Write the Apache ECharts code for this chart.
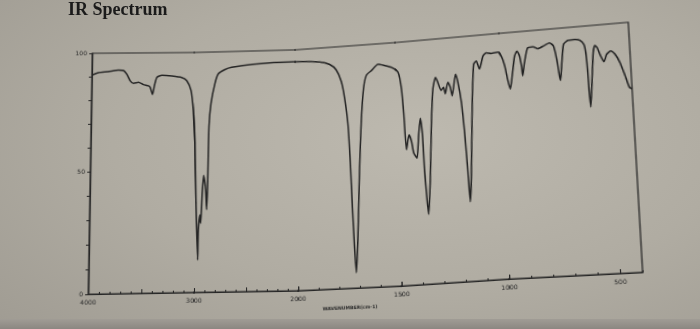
<!DOCTYPE html>
<html>
<head>
<meta charset="utf-8">
<script src="https://cdn.jsdelivr.net/npm/echarts@6/dist/echarts.min.js"></script>
<style>
html,body{margin:0;padding:0;width:700px;height:329px;overflow:hidden;}
body{position:relative;background:radial-gradient(ellipse 80% 85% at 60% 42%, #bdb9af 0%, #b0aca2 55%, #a09c93 100%);}
#band{position:absolute;left:0;top:319px;width:700px;height:10px;background:linear-gradient(#a09c95,#8b8781);}
.strip{position:absolute;left:0;top:0;width:700px;height:329px;transform-origin:0 0;}
.strip > div{width:700px;height:329px;}
#title{position:absolute;left:0;top:0;width:700px;height:40px;}
</style>
</head>
<body>
<div id="band"></div>
<div id="plots"></div>
<div id="title"></div>
<script>
// ---- data (wavenumber in cm-1, % transmittance) ----
const wavenumbers = [4000,3937,3840,3742,3693,3660,3627,3594,3546,3497,
  3448,3431,3408,3390,3367,3318,3221,3123,3074,3032,
  3010,2992,2982,2965,2959,2943,2936,2921,2907,2888,
  2878,2868,2855,2835,2796,2763,2697,2630,2422,2022,
  1877,1827,1795,1771,1756,1742,1734,1729,1722,1716,
  1705,1690,1676,1661,1646,1620,1587,1562,1521,1489,
  1475,1467,1459,1445,1434,1425,1410,1399,1389,1381,
  1376,1369,1363,1350,1336,1324,1310,1300,1285,1273,
  1266,1252,1241,1233,1214,1204,1191,1181,1172,1166,
  1157,1140,1126,1113,1099,1080,1064,1040,1008,993,
  979,967,957,946,931,919,908,900,897,886,
  868,844,821,790,766,748,736,727,723,713,
  701,680,649,626,608,601,597,595,591,581,
  567,558,548,534,520,506,487,468,448,428,
  412,400];
const transmittance = [90.7,91.7,92.1,92.7,92.5,90.9,88.1,87.0,87.4,86.4,
  85.9,85.2,82.2,85.9,89.4,90.3,90.0,89.3,87.9,83.7,
  75.3,61.4,36.4,13.1,25.3,31.5,28.1,40.6,47.8,41.9,
  33.6,44.7,68.3,78.0,86.4,90.5,92.3,93.2,94.3,94.9,
  94.1,92.7,90.2,85.2,78.1,67.0,50.3,33.7,15.8,6.1,
  19.9,47.4,67.9,81.6,87.0,88.9,91.4,90.8,89.6,87.3,
  80.3,69.3,54.9,60.9,58.2,53.3,51.1,60.6,67.4,60.5,
  45.5,34.5,27.9,42.5,65.7,79.2,83.9,81.8,78.2,79.5,
  76.7,81.4,79.3,75.6,84.5,81.1,72.8,60.5,44.1,31.8,
  41.3,71.1,88.0,89.3,85.8,91.1,92.3,91.9,92.2,90.4,
  86.3,80.1,76.6,82.0,90.0,92.0,89.9,85.1,81.6,87.0,
  93.0,93.2,92.3,93.4,94.3,92.8,87.3,80.5,78.5,85.8,
  93.2,94.7,94.8,94.3,92.5,89.1,82.3,74.2,66.8,75.5,
  88.8,91.7,90.7,87.2,84.7,87.7,88.9,87.4,83.9,78.4,
  73.6,72.9];
const xTickLabels = [4000,3000,2000,1500,1000,500];
const xMajorTicks = [4000,3500,3000,2500,2000,1500,1000,500];
const yTickLabels = [0,50,100];
const titleText = 'IR Spectrum';
const xAxisName = 'WAVENUMBER(cm-1)';

// ---- axis scale: the chart paper doubles its scale below 2000 cm-1 ----
function toAxis(wn){ return wn > 2000 ? 2000 + (wn - 2000) / 2 : wn; }
function fromAxis(p){ return p > 2000 ? 2000 + (p - 2000) * 2 : p; }
const xMinorTicks = [];
for (let w = 4000; w >= 400; w -= 100) xMinorTicks.push(w);

const GRID = {left:100, top:50, width:520, height:240};
const AX_MIN = 400, AX_MAX = 3000;
const INK = '#262626';

function buildOption(){
  return {
    animation:false,
    grid:{left:GRID.left, top:GRID.top, width:GRID.width, height:GRID.height,
      show:true, borderColor:INK, borderWidth:1.2, backgroundColor:'transparent'},
    xAxis:[{
      type:'value', min:AX_MIN, max:AX_MAX, inverse:true, position:'bottom',
      axisLine:{show:true, onZero:false, lineStyle:{color:INK, width:1.2}},
      axisTick:{show:true, inside:true, length:4, customValues:xMajorTicks.map(toAxis), lineStyle:{color:INK, width:1}},
      axisLabel:{show:true, customValues:xTickLabels.map(toAxis),
        formatter:function(v){ return String(Math.round(fromAxis(v))); },
        fontSize:6, color:'#2a2a2a', margin:5, fontFamily:'DejaVu Sans'},
      splitLine:{show:false},
      name:xAxisName, nameLocation:'middle', nameGap:12,
      nameTextStyle:{fontSize:4.5, color:'#2a2a2a', fontWeight:'bold', fontFamily:'DejaVu Sans', padding:[0,20,0,0]}
    },{
      type:'value', min:AX_MIN, max:AX_MAX, inverse:true, position:'bottom',
      axisLine:{show:false},
      axisTick:{show:true, inside:true, length:2, customValues:xMinorTicks.map(toAxis), lineStyle:{color:INK, width:1}},
      axisLabel:{show:false}, splitLine:{show:false}
    }],
    yAxis:{
      type:'value', min:0, max:100, interval:10,
      axisLine:{show:true, lineStyle:{color:INK, width:1.2}},
      axisTick:{show:true, inside:false, length:3, lineStyle:{color:INK}},
      axisLabel:{formatter:function(v){ return yTickLabels.indexOf(v) >= 0 ? String(v) : ''; },
        fontSize:6, color:'#2a2a2a', margin:5, fontFamily:'DejaVu Sans'},
      splitLine:{show:false}
    },
    series:[{
      type:'line', xAxisIndex:0, showSymbol:false, smooth:0.2,
      lineStyle:{color:'#232323', width:1.5},
      data:wavenumbers.map(function(w,i){ return [toAxis(w), transmittance[i]]; })
    }]
  };
}

// ---- photo perspective: the printed frame, as seen in the photograph ----
const paperFrame = [
  {wn:4000, top:[92.3,53.3],  bottom:[88.3,294.2]},
  {wn:3000, top:[194.4,52.5], bottom:[194.0,292.4]},
  {wn:2000, top:[295.1,49.9], bottom:[298.3,290.7]},
  {wn:1500, top:[395.0,42.6], bottom:[401.7,286.0]},
  {wn:1000, top:[498.9,33.4], bottom:[509.3,279.0]},
  {wn:400,  top:[628.3,22.3], bottom:[642.7,272.3]}
];
function localX(wn){ return GRID.left + (AX_MAX - toAxis(wn)) / (AX_MAX - AX_MIN) * GRID.width; }
function solveHomography(src, dst){
  const A = [], b = [];
  for (let i = 0; i < 4; i++){
    const x = src[i][0], y = src[i][1], X = dst[i][0], Y = dst[i][1];
    A.push([x,y,1,0,0,0,-x*X,-y*X]); b.push(X);
    A.push([0,0,0,x,y,1,-x*Y,-y*Y]); b.push(Y);
  }
  const n = 8;
  for (let c = 0; c < n; c++){
    let piv = c;
    for (let r = c+1; r < n; r++) if (Math.abs(A[r][c]) > Math.abs(A[piv][c])) piv = r;
    let t = A[c]; A[c] = A[piv]; A[piv] = t; t = b[c]; b[c] = b[piv]; b[piv] = t;
    for (let r = 0; r < n; r++){
      if (r === c) continue;
      const f = A[r][c] / A[c][c];
      for (let k = c; k < n; k++) A[r][k] -= f * A[c][k];
      b[r] -= f * b[c];
    }
  }
  return b.map(function(v,i){ return v / A[i][i]; });
}

const plots = document.getElementById('plots');
const top0 = GRID.top, bot0 = GRID.top + GRID.height;
for (let i = 0; i < paperFrame.length - 1; i++){
  const a = paperFrame[i], c = paperFrame[i+1];
  const xa = localX(a.wn), xb = localX(c.wn);
  const h = solveHomography(
    [[xa,top0],[xb,top0],[xb,bot0],[xa,bot0]],
    [a.top, c.top, c.bottom, a.bottom]);
  const strip = document.createElement('div');
  strip.className = 'strip';
  const clipL = i === 0 ? 0 : xa - 0.6;
  const clipR = i === paperFrame.length - 2 ? 700 : xb + 0.6;
  strip.style.clipPath = 'inset(0px ' + (700 - clipR) + 'px 0px ' + clipL + 'px)';
  strip.style.transform = 'matrix3d(' + [h[0],h[3],0,h[6], h[1],h[4],0,h[7], 0,0,1,0, h[2],h[5],0,1].join(',') + ')';
  const inner = document.createElement('div');
  strip.appendChild(inner);
  plots.appendChild(strip);
  echarts.init(inner, null, {renderer:'canvas'}).setOption(buildOption());
}

echarts.init(document.getElementById('title'), null, {renderer:'canvas'}).setOption({
  animation:false,
  title:{text:titleText, left:63, top:-4,
    textStyle:{fontFamily:'Liberation Serif', fontWeight:'bold', fontSize:18, color:'#1b1b1b'}}
});
</script>
</body>
</html>
